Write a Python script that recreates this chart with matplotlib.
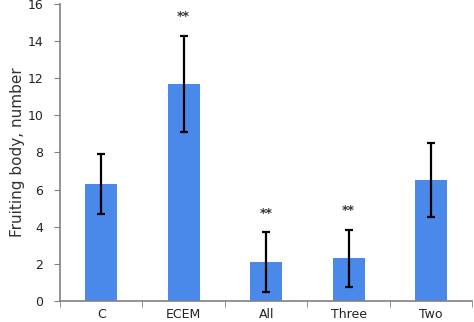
import matplotlib.pyplot as plt

categories = ["C", "ECEM", "All", "Three", "Two"]
means = [6.3, 11.7, 2.1, 2.3, 6.5]
errors = [1.6, 2.6, 1.6, 1.55, 2.0]
marks = ["", "**", "**", "**", ""]

fig = plt.figure(figsize=(4.74, 3.22), dpi=100)
ax = fig.add_axes([0.1266, 0.0652, 0.870, 0.9224])

x = range(len(categories))
ax.bar(x, means, width=0.39, color="#4a88ea", zorder=1)
ax.errorbar(x, means, yerr=errors, fmt="none", ecolor="black",
            elinewidth=1.6, capsize=3, capthick=1.6, zorder=2)

for i, m in enumerate(marks):
    if m:
        ax.text(i, means[i] + errors[i] + 1.0, m, ha="center", va="center",
                fontsize=9, fontweight="bold", color="#333333")

ax.set_xlim(-0.5, len(categories) - 0.5)
ax.set_ylim(0, 16)
ax.set_yticks(range(0, 17, 2))
ax.set_xticks(x)
ax.set_xticklabels(categories)
ax.set_xticks([i + 0.5 for i in range(-1, len(categories))], minor=True)
ax.tick_params(axis="x", which="major", length=0, pad=5)
ax.tick_params(axis="x", which="minor", length=4, color="#808080", direction="out")
ax.tick_params(axis="y", length=4, color="#808080", direction="out", pad=8)
ax.tick_params(labelsize=9, labelcolor="#222222")

for side in ["top", "right"]:
    ax.spines[side].set_visible(False)
for side in ["left", "bottom"]:
    ax.spines[side].set_color("#808080")
    ax.spines[side].set_linewidth(1.2)

ax.set_ylabel("Fruiting body, number", fontsize=11, color="#333333", labelpad=2)

fig.savefig("out.png", dpi=100)
